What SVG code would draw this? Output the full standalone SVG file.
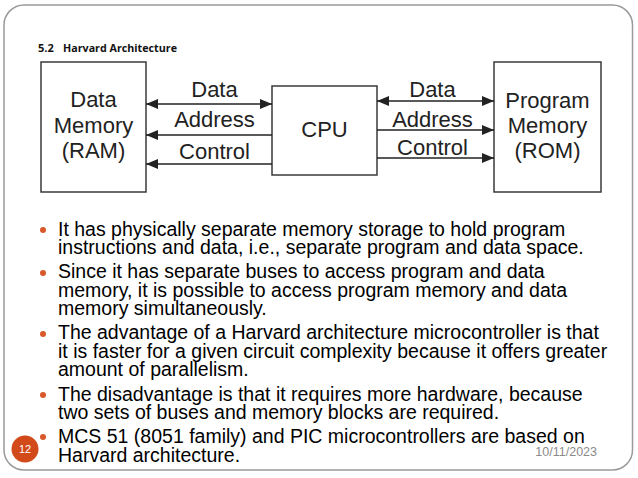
<svg xmlns="http://www.w3.org/2000/svg" width="638" height="478" viewBox="0 0 638 478">
<style>
.box{fill:#fff;stroke:#3a3a3a;stroke-width:1.5}
.lbl{font-family:"Liberation Sans",Arial,sans-serif;font-size:22px;fill:#222;text-anchor:middle}
.bus{stroke:#222;stroke-width:1.6;fill:none}
.body{font-family:"Liberation Sans",Arial,sans-serif;font-size:19.5px;fill:#000}
.dot{fill:#d9582a}
.ttl{font-family:"Open Sans","DejaVu Sans",sans-serif;font-weight:bold;font-size:11px;fill:#111}
</style>
<defs>
<marker id="arr" viewBox="0 0 12 10" refX="12" refY="5" markerWidth="12" markerHeight="10" markerUnits="userSpaceOnUse" orient="auto-start-reverse">
<path d="M0,0 L12,5 L0,10 z" fill="#222"/>
</marker>
</defs>
<rect width="638" height="478" fill="#fff"/>
<rect id="frame" x="4" y="5" width="628.5" height="465" rx="20" ry="20" fill="none" stroke="#9a9a9a" stroke-width="1.5"/>
<g id="title">
<text class="ttl" x="38" y="52">5.2</text>
<text class="ttl" x="63" y="52" textLength="114" lengthAdjust="spacingAndGlyphs">Harvard Architecture</text>
</g>

<g id="data-memory">
<rect class="box" x="41" y="62" width="105" height="130"/>
<text class="lbl" x="93.5" y="107">Data</text>
<text class="lbl" x="93.5" y="133">Memory</text>
<text class="lbl" x="93.5" y="158">(RAM)</text>
</g>
<g id="cpu">
<rect class="box" x="272" y="86" width="105" height="89"/>
<text class="lbl" x="324.5" y="137">CPU</text>
</g>
<g id="program-memory">
<rect class="box" x="494" y="62" width="107" height="130"/>
<text class="lbl" x="547.5" y="108">Program</text>
<text class="lbl" x="547.5" y="133">Memory</text>
<text class="lbl" x="547.5" y="158">(ROM)</text>
</g>

<g id="connectors">
<path class="bus" d="M146,104 H272" marker-start="url(#arr)" marker-end="url(#arr)"/>
<path class="bus" d="M272,135 H146" marker-end="url(#arr)"/>
<path class="bus" d="M272,164 H146" marker-end="url(#arr)"/>
<path class="bus" d="M377,101 H494" marker-start="url(#arr)" marker-end="url(#arr)"/>
<path class="bus" d="M377,130 H494" marker-end="url(#arr)"/>
<path class="bus" d="M377,158 H494" marker-end="url(#arr)"/>
<text class="lbl" x="214.5" y="97">Data</text>
<text class="lbl" x="214.5" y="127">Address</text>
<text class="lbl" x="214.5" y="159">Control</text>
<text class="lbl" x="432.5" y="97">Data</text>
<text class="lbl" x="432.5" y="127">Address</text>
<text class="lbl" x="432.5" y="155">Control</text>
</g>

<g id="bullets">
<circle class="dot" cx="43" cy="230" r="3"/>
<circle class="dot" cx="43" cy="273" r="3"/>
<circle class="dot" cx="43" cy="334" r="3"/>
<circle class="dot" cx="43" cy="395" r="3"/>
<circle class="dot" cx="43" cy="437" r="3"/>
<text class="body" x="58" y="236">It has physically separate memory storage to hold program</text>
<text class="body" x="58" y="254">instructions and data, i.e., separate program and data space.</text>
<text class="body" x="58" y="278">Since it has separate buses to access program and data</text>
<text class="body" x="58" y="297">memory, it is possible to access program memory and data</text>
<text class="body" x="58" y="315">memory simultaneously.</text>
<text class="body" x="58" y="339">The advantage of a Harvard architecture microcontroller is that</text>
<text class="body" x="58" y="358">it is faster for a given circuit complexity because it offers greater</text>
<text class="body" x="58" y="376">amount of parallelism.</text>
<text class="body" x="58" y="401">The disadvantage is that it requires more hardware, because</text>
<text class="body" x="58" y="419">two sets of buses and memory blocks are required.</text>
<text class="body" x="58" y="443">MCS 51 (8051 family) and PIC microcontrollers are based on</text>
<text class="body" x="58" y="462">Harvard architecture.</text>
</g>

<g id="page-number">
<circle cx="25" cy="449" r="13.5" fill="#d24a1a"/>
<text x="25" y="453" font-family="'Liberation Sans',Arial,sans-serif" font-size="11" fill="#fff" text-anchor="middle">12</text>
</g>
<text id="date" x="597" y="456" font-family="'Liberation Sans',Arial,sans-serif" font-size="12.5" fill="#8a8a8a" text-anchor="end">10/11/2023</text>
</svg>
